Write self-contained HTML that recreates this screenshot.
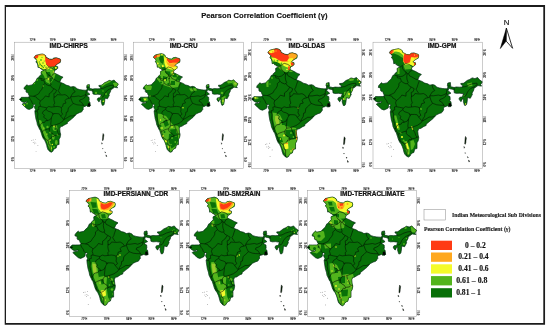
<!DOCTYPE html><html><head><meta charset="utf-8"><title>Pearson Correlation Coefficient</title>
<style>html,body{margin:0;padding:0;background:#fff;overflow:hidden}svg{display:block}text{font-family:"Liberation Sans",sans-serif}.s{font-family:"Liberation Serif",serif;font-weight:bold}.t{font-size:2.7px;fill:#222;stroke:#222;stroke-width:0.13px}.h{font-weight:bold;font-size:6.45px;fill:#111;stroke:#111;stroke-width:0.22px}</style></head><body>
<svg width="550" height="330" viewBox="0 0 550 330">
<defs>
<path id="india" d="M68.18,23.69 L68.40,23.95 L68.75,24.30 L69.60,24.28 L70.10,24.30 L70.60,24.30 L70.98,24.36 L71.10,24.70 L70.90,25.00 L70.65,25.70 L70.28,25.70 L70.10,25.95 L70.08,26.60 L69.50,26.74 L69.57,27.17 L70.14,27.83 L70.37,28.01 L70.70,27.74 L71.90,27.96 L72.20,28.35 L72.95,29.03 L73.38,29.94 L73.93,30.19 L73.87,30.38 L74.60,31.05 L74.52,31.72 L74.60,31.90 L75.38,32.26 L74.65,32.60 L74.67,32.80 L74.30,32.80 L74.00,33.20 L73.63,33.10 L73.55,33.80 L73.40,34.35 L73.00,34.70 L73.30,35.20 L72.90,35.60 L72.50,36.00 L72.60,36.30 L73.00,36.70 L73.80,36.90 L74.50,37.05 L74.90,37.10 L75.40,36.95 L75.90,36.60 L76.00,36.10 L76.51,35.88 L77.00,35.60 L77.82,35.51 L78.30,35.90 L79.00,36.00 L80.20,35.60 L80.30,35.20 L80.20,34.60 L79.60,34.30 L79.00,33.90 L78.75,33.55 L79.45,33.35 L79.45,32.85 L79.10,32.50 L78.60,32.30 L78.30,31.60 L78.90,31.25 L79.50,31.00 L80.20,30.58 L80.90,30.30 L81.03,30.20 L80.50,29.80 L80.06,28.83 L80.50,28.60 L81.20,28.35 L81.90,27.90 L82.70,27.70 L83.30,27.35 L84.10,27.50 L84.65,27.30 L85.20,26.80 L85.85,26.60 L86.70,26.45 L87.30,26.40 L88.00,26.37 L88.15,26.90 L88.00,27.30 L88.10,27.90 L88.80,28.05 L88.85,27.50 L88.90,27.30 L88.75,27.10 L89.00,26.90 L89.80,26.72 L90.40,26.85 L91.20,26.80 L92.05,26.85 L92.10,27.30 L91.65,27.50 L91.60,27.80 L92.30,27.85 L92.70,28.10 L93.30,28.60 L94.00,28.90 L94.65,29.30 L95.40,29.10 L96.10,29.40 L96.60,28.80 L97.35,28.25 L97.10,27.75 L96.90,27.50 L97.15,27.10 L96.20,27.25 L95.45,26.70 L95.15,26.60 L95.05,26.00 L94.60,25.20 L94.70,24.90 L94.15,23.85 L93.40,24.05 L93.30,23.00 L93.15,22.20 L92.95,21.95 L92.60,21.95 L92.30,22.90 L92.35,23.70 L92.00,23.65 L91.70,23.00 L91.60,22.95 L91.20,23.50 L91.15,23.75 L91.35,24.10 L91.90,24.15 L92.10,24.40 L92.25,24.90 L92.45,25.03 L91.30,25.20 L90.40,25.15 L89.85,25.30 L89.80,25.90 L89.65,26.20 L89.10,26.30 L88.70,26.40 L88.40,26.60 L88.35,26.30 L88.10,25.80 L88.45,25.65 L88.95,25.20 L88.30,24.90 L88.05,24.65 L88.70,24.30 L88.75,23.50 L88.60,23.20 L88.95,22.90 L89.05,22.10 L89.10,21.80 L88.90,21.60 L88.20,21.60 L88.00,21.90 L87.80,21.70 L87.20,21.55 L86.95,21.20 L87.00,20.70 L86.75,20.40 L86.70,20.20 L86.40,19.95 L85.80,19.75 L85.10,19.40 L84.75,19.10 L84.10,18.35 L83.60,17.95 L83.30,17.70 L82.30,16.90 L82.30,16.55 L81.70,16.30 L81.15,15.95 L80.85,15.75 L80.30,15.65 L80.05,15.00 L80.15,14.00 L80.30,13.40 L80.30,13.10 L80.15,12.40 L79.85,11.90 L79.85,11.00 L79.85,10.35 L79.30,10.30 L79.10,9.70 L79.00,9.30 L78.60,9.15 L78.15,8.75 L78.00,8.35 L77.55,8.08 L77.10,8.30 L76.55,8.90 L76.30,9.60 L76.20,10.10 L75.95,10.85 L75.60,11.60 L75.20,12.10 L74.85,12.90 L74.60,13.70 L74.30,14.60 L74.10,14.85 L73.75,15.60 L73.45,16.20 L73.30,17.00 L73.00,18.00 L72.85,18.90 L72.75,19.60 L72.70,20.20 L72.90,20.75 L72.65,21.10 L72.55,21.65 L72.90,22.00 L72.50,22.25 L72.20,22.00 L72.25,21.60 L72.10,21.20 L71.50,20.90 L71.00,20.70 L70.40,20.90 L69.65,21.55 L68.95,22.25 L69.20,22.45 L69.70,22.55 L70.10,22.55 L70.40,22.95 L70.10,22.95 L69.70,22.75 L69.20,22.85 L68.60,23.20Z"/>
<clipPath id="cl"><use href="#india"/></clipPath>
<g id="isl"><g fill="#0a2a0a" stroke="#000" stroke-width="0.12"><path d="M92.85,13.6 L93.1,13.2 L93.0,12.5 L92.95,11.9 L92.8,11.5 L92.65,11.6 L92.7,12.3 L92.75,13.0Z"/><path d="M92.45,10.9 L92.6,10.6 L92.5,10.45Z"/><path d="M92.75,9.25 L92.85,9.1 L92.7,9.1Z"/><path d="M93.4,8.2 L93.6,7.95 L93.45,7.9Z"/><path d="M93.7,7.3 L93.95,6.85 L93.75,6.8Z"/></g><g fill="#444"><circle cx="72.2" cy="11.7" r="0.1"/><circle cx="72.7" cy="11.1" r="0.1"/><circle cx="73.0" cy="10.8" r="0.1"/><circle cx="72.6" cy="10.55" r="0.1"/><circle cx="73.6" cy="10.1" r="0.1"/><circle cx="72.2" cy="10.9" r="0.1"/><circle cx="71.8" cy="11.6" r="0.1"/><circle cx="72.9" cy="11.9" r="0.1"/><circle cx="73.05" cy="8.3" r="0.1"/></g></g>
<g id="bnd" fill="none" stroke="#021202" stroke-width="0.16" stroke-linejoin="round"><path d="M75.38,32.26 L75.9,32.6 L76.4,32.9 L76.8,33.2 L77.8,32.9 L78.6,32.3"/><path d="M75.9,32.5 L76.0,31.8 L76.4,31.2 L76.9,30.9 L77.2,30.4 L77.6,30.4 L78.0,31.1 L78.5,31.3"/><path d="M73.9,29.95 L74.5,29.9 L75.3,29.6 L76.1,29.8 L76.9,30.4 L76.9,30.9"/><path d="M74.5,29.9 L74.6,29.3 L75.4,29.2 L75.6,28.6 L76.0,28.1 L76.9,27.7 L77.3,27.8"/><path d="M77.2,30.4 L77.1,29.5 L77.2,28.8 L77.5,28.0 L77.3,27.8"/><path d="M77.6,30.4 L77.9,29.8 L78.4,29.6 L78.9,29.3 L79.6,28.9 L80.06,28.83"/><path d="M80.5,28.6 L80.1,27.5 L79.9,26.8 L79.6,26.3 L79.8,25.9 L80.3,25.2"/><path d="M75.7,28.4 L75.0,27.8 L75.0,27.2 L74.7,26.6 L74.2,26.0 L73.8,25.3 L73.0,24.9 L72.3,24.6"/><path d="M71.1,24.7 L72.3,24.6 L73.1,24.4 L73.4,23.9 L74.0,23.6 L74.3,23.2"/><path d="M74.3,23.2 L75.2,23.9 L75.8,24.7 L76.9,24.4 L76.9,25.3 L77.7,25.9 L78.3,26.85"/><path d="M77.3,27.8 L77.7,27.2 L78.3,26.85"/><path d="M78.3,26.85 L79.1,26.4 L78.8,25.6 L78.3,25.4 L78.4,24.3 L79.0,24.6 L79.3,25.1 L80.3,25.0 L80.9,25.0 L81.6,25.1 L82.3,24.7 L82.8,24.0 L83.3,24.2"/><path d="M83.9,27.4 L84.1,26.6 L84.6,25.9 L83.9,25.5 L83.3,24.5 L83.3,24.2"/><path d="M83.3,24.5 L84.3,24.5 L85.6,24.7 L86.3,24.5 L87.1,24.8 L87.8,25.2"/><path d="M88.0,26.37 L87.8,25.8 L87.8,25.2"/><path d="M87.8,25.2 L87.5,24.3 L86.8,23.8 L86.0,23.5 L85.9,23.1 L86.5,22.8 L87.0,22.1 L87.0,21.9 L87.5,21.6"/><path d="M87.0,21.95 L85.9,22.0 L85.1,22.1 L84.3,22.4 L84.0,22.5"/><path d="M84.0,22.5 L83.6,23.3 L83.3,24.2"/><path d="M84.0,22.5 L83.3,21.8 L82.6,21.2 L82.4,20.0 L82.0,19.9 L81.9,19.0 L81.4,18.2 L81.4,17.8"/><path d="M81.4,17.8 L82.3,18.3 L83.1,18.8 L83.9,18.8 L84.75,19.1"/><path d="M78.4,24.5 L78.3,23.9 L78.4,23.2 L78.6,22.6 L78.3,22.2 L78.4,21.5"/><path d="M82.8,24.0 L82.0,23.8 L81.6,23.3 L81.9,22.6 L81.1,22.4 L80.9,21.6 L80.5,21.3"/><path d="M74.3,21.6 L75.2,21.4 L76.2,21.2 L76.8,21.6 L77.5,21.4 L78.4,21.5 L79.3,21.6 L80.0,21.5 L80.5,21.3"/><path d="M74.3,23.2 L74.1,22.6 L74.3,22.0 L74.3,21.6"/><path d="M74.3,21.6 L73.8,21.5 L73.9,20.7 L73.4,20.6 L73.4,20.2 L72.75,20.15"/><path d="M71.0,24.4 L71.3,23.7 L71.7,23.2 L71.9,22.6 L72.3,22.2"/><path d="M73.4,20.2 L73.6,19.5 L73.5,18.5 L73.7,17.5 L73.9,16.5 L74.1,15.7"/><path d="M76.2,21.2 L76.0,20.7 L75.2,20.2 L74.9,19.6 L75.5,19.0 L75.3,18.4 L75.9,18.0 L76.4,17.6 L76.3,17.35"/><path d="M76.0,20.7 L76.6,20.2 L77.3,20.0 L77.9,19.7 L77.9,19.3 L78.3,19.5"/><path d="M80.5,21.3 L80.6,20.6 L80.5,20.0 L80.9,19.3 L80.3,18.8 L79.9,19.4 L79.2,19.5 L78.3,19.5 L77.8,18.8 L77.6,18.3 L77.2,17.7 L76.4,17.4 L75.9,17.4 L75.6,16.9 L74.9,16.8 L74.5,16.5 L74.3,16.0 L74.1,15.7 L74.3,15.2 L74.1,14.9"/><path d="M74.1,15.7 L73.7,15.72"/><path d="M80.3,18.8 L80.8,18.2 L81.1,17.8 L81.4,17.8"/><path d="M81.3,17.8 L80.9,17.2 L80.4,16.9 L80.0,16.6 L79.2,16.3 L78.3,16.0 L77.5,15.9"/><path d="M77.6,18.3 L77.5,17.4 L77.4,16.4 L77.5,15.9"/><path d="M78.7,16.1 L78.9,15.3 L79.3,14.6 L79.5,13.9 L79.9,13.4"/><path d="M77.5,15.9 L77.0,15.2 L77.0,14.4 L77.4,13.9 L78.0,13.6 L78.4,13.0 L78.2,12.7"/><path d="M74.3,15.0 L74.7,14.6 L75.0,13.6 L75.3,12.8 L75.4,12.3"/><path d="M74.9,14.2 L75.6,14.6 L76.4,14.9 L77.0,15.0"/><path d="M74.9,12.75 L75.5,12.2 L76.1,11.9 L76.4,11.6 L77.0,11.8 L77.5,12.2 L77.8,12.8 L78.2,12.7"/><path d="M78.2,12.7 L78.6,13.0 L79.3,13.1 L79.9,13.4 L80.3,13.45"/><path d="M76.4,11.6 L76.7,11.2 L76.8,10.3 L77.2,10.2 L77.2,9.6 L77.2,8.9 L77.15,8.3"/><path d="M87.8,24.9 L88.1,24.7"/><path d="M88.05,27.15 L88.85,27.15"/><path d="M89.85,26.0 L89.8,26.7"/><path d="M92.05,26.85 L93.0,27.0 L94.0,27.5 L95.0,27.8 L95.9,27.9 L96.0,27.4 L95.5,27.2 L95.2,26.9 L95.2,26.65"/><path d="M95.2,26.9 L94.3,26.5 L93.7,25.9 L93.4,25.5 L93.1,24.8 L92.8,24.4 L92.3,24.3"/><path d="M88.35,22.5 L88.9,22.6 L89.1,21.75 L88.7,21.6 L88.3,21.75Z" fill="#000" stroke="none"/><path d="M68.2,23.75 L68.8,23.9 L68.9,23.55 L68.3,23.5Z" fill="#000" stroke="none"/></g>
</defs>
<rect x="0" y="0" width="550" height="330" fill="#fff"/>
<path d="M4.7,5.1 H545.05 V324.8 H4.7Z M6.0,6.9 V322.9 H543.3 V6.9Z" fill="#1c1c1c" fill-rule="evenodd"/>
<text x="264.3" y="17.6" text-anchor="middle" style="font-weight:bold;font-size:8.1px;stroke:#111;stroke-width:0.15px" fill="#111" textLength="126.3" lengthAdjust="spacingAndGlyphs">Pearson Correlation Coefficient (γ)</text>
<text x="506.5" y="25" text-anchor="middle" style="font-size:7.8px;stroke:#111;stroke-width:0.15px" fill="#111">N</text><path d="M506.4,28.1 L500.3,48.6 L506.2,41.1Z" fill="#000" stroke="#000" stroke-width="0.5" stroke-linejoin="miter"/><path d="M506.4,28.1 L512.6,48.3 L506.2,41.1Z" fill="#fff" stroke="#000" stroke-width="0.8" stroke-linejoin="miter"/>
<rect x="14.45" y="42.2" width="109.0" height="126.2" fill="#fff" stroke="#9a9a9a" stroke-width="0.5"/>
<g transform="translate(-211.22,179.56) scale(3.385,-3.385)">
<use href="#india" fill="#087008" stroke="#031" stroke-width="0.1"/>
<g clip-path="url(#cl)">
<g transform="scale(0.29542,-0.29542) translate(211.22,-179.56)">
<path d="M40.00,67.00 L53.00,67.00 L56.00,73.00 L54.00,79.00 L50.00,84.00 L46.00,82.00 L44.00,76.00 L41.00,72.00Z" fill="#52b41c"/>
<path d="M46.00,72.00 L50.00,72.00 L51.00,76.00 L47.00,77.00Z" fill="#087008"/>
<path d="M50.00,78.00 L53.00,77.00 L52.00,81.00 L50.00,82.00Z" fill="#087008"/>
<circle cx="34" cy="83" r="1.2" fill="#52b41c"/>
<circle cx="37" cy="80" r="1.0" fill="#52b41c"/>
<circle cx="48.5" cy="79" r="0.8" fill="#f4fb2a"/>
<circle cx="43" cy="86" r="0.9" fill="#52b41c"/>
<path d="M35.50,55.50 L44.00,53.50 L46.00,58.00 L46.00,64.00 L48.00,66.50 L50.50,67.50 L48.00,69.30 L44.00,69.00 L41.00,68.30 L38.50,66.80 L37.50,62.00 L36.00,58.50Z" fill="#f4fb2a"/>
<circle cx="41" cy="60" r="0.9" fill="#52b41c"/>
<circle cx="43" cy="63" r="0.8" fill="#52b41c"/>
<circle cx="40.3" cy="64.5" r="0.9" fill="#52b41c"/>
<circle cx="44.5" cy="65.7" r="0.8" fill="#52b41c"/>
<circle cx="42" cy="57.3" r="0.6" fill="#52b41c"/>
<circle cx="46" cy="67.3" r="0.8" fill="#52b41c"/>
<circle cx="39.3" cy="62" r="0.7" fill="#52b41c"/>
<circle cx="42.3" cy="66.5" r="0.9" fill="#52b41c"/>
<circle cx="38.8" cy="65.3" r="0.7" fill="#52b41c"/>
<circle cx="44.2" cy="61" r="0.6" fill="#52b41c"/>
<circle cx="41.5" cy="65.5" r="0.5" fill="#087008"/>
<circle cx="43.5" cy="67.3" r="0.5" fill="#087008"/>
<circle cx="39.5" cy="63.6" r="0.45" fill="#087008"/>
<path d="M38.00,53.50 L44.50,53.20 L45.20,55.40 L39.00,56.00Z" fill="#ffa81e"/>
<path d="M32.50,57.70 L35.00,54.60 L38.50,54.00 L38.30,57.00 L37.00,58.40 L35.00,58.00Z" fill="#ff3a14"/>
<path d="M44.30,53.50 L46.00,56.00 L48.00,58.50 L51.00,59.50 L55.00,58.30 L62.00,57.00 L61.30,61.00 L57.30,64.50 L54.50,66.60 L49.00,66.70 L46.40,64.60 L45.20,61.00 L45.20,57.00Z" fill="#ff3a14"/>
<circle cx="55.8" cy="67.8" r="1.1" fill="#f4fb2a"/>
<circle cx="51" cy="69.3" r="0.8" fill="#f4fb2a"/>
<circle cx="53.5" cy="72" r="0.7" fill="#f4fb2a"/>
<path d="M99.50,84.00 L104.00,80.00 L110.00,78.00 L113.50,79.50 L110.50,82.00 L106.00,84.00 L102.00,86.80Z" fill="#52b41c"/>
<path d="M113.00,83.00 L119.00,82.00 L118.50,86.00 L114.00,86.50Z" fill="#52b41c"/>
<circle cx="96" cy="93" r="1.2" fill="#52b41c"/>
<circle cx="103" cy="91" r="0.8" fill="#52b41c"/>
<circle cx="88.2" cy="85" r="1.2" fill="#52b41c"/>
<circle cx="104" cy="101" r="1.3" fill="#52b41c"/>
<circle cx="103.2" cy="101.5" r="0.6" fill="#f4fb2a"/>
<circle cx="106" cy="94" r="1.0" fill="#52b41c"/>
<circle cx="101" cy="97" r="0.8" fill="#52b41c"/>
<circle cx="24" cy="105" r="1.3" fill="#52b41c"/>
<circle cx="27" cy="103.5" r="0.9" fill="#52b41c"/>
<circle cx="22" cy="107" r="0.8" fill="#52b41c"/>
<circle cx="24.5" cy="105.5" r="0.5" fill="#f4fb2a"/>
<path d="M39.00,120.00 L41.20,120.50 L43.70,127.00 L46.30,133.00 L49.30,140.00 L52.30,148.00 L51.70,151.50 L49.50,149.00 L47.00,142.00 L44.00,135.00 L41.30,128.00 L39.30,123.00Z" fill="#52b41c"/>
<ellipse cx="55" cy="128" rx="2.4" ry="3.0" fill="#52b41c"/>
<ellipse cx="53.3" cy="137" rx="1.4" ry="2.8" fill="#52b41c"/>
<ellipse cx="56.3" cy="142.5" rx="1.4" ry="2.4" fill="#52b41c"/>
<circle cx="47.5" cy="127" r="1.2" fill="#52b41c"/>
<circle cx="50.3" cy="132.5" r="1.1" fill="#52b41c"/>
<circle cx="57.5" cy="135" r="1.0" fill="#52b41c"/>
<circle cx="54" cy="147" r="1.0" fill="#52b41c"/>
<circle cx="55.3" cy="129" r="1.0" fill="#087008"/>
<circle cx="54" cy="126" r="0.8" fill="#f4fb2a"/>
<circle cx="50" cy="140" r="0.8" fill="#f4fb2a"/>
<circle cx="52.3" cy="144.5" r="0.7" fill="#f4fb2a"/>
<circle cx="47" cy="134" r="0.6" fill="#f4fb2a"/>
<circle cx="51.5" cy="148" r="0.6" fill="#f4fb2a"/>
<circle cx="44" cy="128" r="0.6" fill="#f4fb2a"/>
</g>
</g>
<use href="#bnd"/>
<use href="#india" fill="none" stroke="#021" stroke-width="0.12"/>
<use href="#isl"/>
</g>
<text class="t" x="32.5" y="41.4" text-anchor="middle">72°E</text>
<text class="t" x="32.5" y="171.7" text-anchor="middle">72°E</text>
<text class="t" x="52.8" y="41.4" text-anchor="middle">78°E</text>
<text class="t" x="52.8" y="171.7" text-anchor="middle">78°E</text>
<text class="t" x="73.1" y="41.4" text-anchor="middle">84°E</text>
<text class="t" x="73.1" y="171.7" text-anchor="middle">84°E</text>
<text class="t" x="93.4" y="41.4" text-anchor="middle">90°E</text>
<text class="t" x="93.4" y="171.7" text-anchor="middle">90°E</text>
<text class="t" x="113.7" y="41.4" text-anchor="middle">96°E</text>
<text class="t" x="113.7" y="171.7" text-anchor="middle">96°E</text>
<text class="t" transform="translate(13.8,57.5) rotate(-90)" text-anchor="middle">36°N</text>
<text class="t" transform="translate(127.0,57.5) rotate(-90)" text-anchor="middle">36°N</text>
<text class="t" transform="translate(13.8,77.8) rotate(-90)" text-anchor="middle">30°N</text>
<text class="t" transform="translate(127.0,77.8) rotate(-90)" text-anchor="middle">30°N</text>
<text class="t" transform="translate(13.8,98.1) rotate(-90)" text-anchor="middle">24°N</text>
<text class="t" transform="translate(127.0,98.1) rotate(-90)" text-anchor="middle">24°N</text>
<text class="t" transform="translate(13.8,118.4) rotate(-90)" text-anchor="middle">18°N</text>
<text class="t" transform="translate(127.0,118.4) rotate(-90)" text-anchor="middle">18°N</text>
<text class="t" transform="translate(13.8,138.7) rotate(-90)" text-anchor="middle">12°N</text>
<text class="t" transform="translate(127.0,138.7) rotate(-90)" text-anchor="middle">12°N</text>
<text class="t" transform="translate(13.8,159.1) rotate(-90)" text-anchor="middle">6°N</text>
<text class="t" transform="translate(127.0,159.1) rotate(-90)" text-anchor="middle">6°N</text>
<text class="h" x="68.7" y="47.8" text-anchor="middle">IMD-CHIRPS</text>
<rect x="133.4" y="42.2" width="109.9" height="126.2" fill="#fff" stroke="#9a9a9a" stroke-width="0.5"/>
<g transform="translate(-93.00,179.80) scale(3.4,-3.4)">
<use href="#india" fill="#087008" stroke="#031" stroke-width="0.1"/>
<g clip-path="url(#cl)">
<g transform="scale(0.29412,-0.29412) translate(93.00,-179.80)">
<path d="M150.00,52.00 L185.00,52.00 L185.00,70.00 L176.00,78.00 L170.00,80.00 L160.00,74.00 L150.00,70.00Z" fill="#52b41c"/>
<path d="M159.50,56.00 L163.00,55.50 L164.00,60.00 L163.00,64.00 L160.50,62.50 L159.00,59.00Z" fill="#087008"/>
<path d="M161.00,66.00 L165.00,67.00 L166.00,70.00 L162.00,70.00Z" fill="#087008"/>
<circle cx="157.7" cy="63.5" r="1.0" fill="#f4fb2a"/>
<circle cx="162.8" cy="66.2" r="1.1" fill="#f4fb2a"/>
<circle cx="162" cy="54.6" r="1.0" fill="#f4fb2a"/>
<circle cx="159" cy="66" r="0.7" fill="#f4fb2a"/>
<path d="M164.50,55.50 L166.50,57.00 L169.00,60.00 L177.00,60.00 L177.80,66.00 L177.50,69.50 L174.00,70.00 L170.00,69.30 L166.00,67.80 L164.50,63.50 L164.00,59.00Z" fill="#f4fb2a"/>
<path d="M165.80,57.30 L167.00,62.00 L169.50,63.50 L177.50,62.50 L176.50,65.20 L174.00,67.20 L171.00,66.70 L168.00,65.20 L166.30,62.00Z" fill="#ffa81e"/>
<path d="M166.30,56.50 L168.50,59.30 L172.00,60.00 L176.00,58.30 L180.50,57.80 L180.00,60.50 L177.50,62.70 L173.00,62.70 L169.50,63.20 L167.30,61.00Z" fill="#ff3a14"/>
<path d="M156.50,54.50 L160.00,54.00 L160.00,56.50 L157.00,57.50Z" fill="#ffa81e"/>
<path d="M152.50,57.50 L155.50,55.20 L157.30,54.60 L156.70,57.00 L155.50,58.40Z" fill="#ff3a14"/>
<circle cx="173.5" cy="71.5" r="0.9" fill="#ffa81e"/>
<circle cx="172.2" cy="72.8" r="0.8" fill="#f4fb2a"/>
<path d="M165.00,71.00 L170.00,71.50 L171.00,76.00 L166.00,76.00Z" fill="#087008"/>
<path d="M172.00,74.00 L176.00,73.00 L177.00,77.00 L173.00,78.00Z" fill="#087008"/>
<path d="M157.00,73.00 L164.00,72.00 L170.00,76.00 L176.00,78.00 L180.00,82.00 L178.00,87.00 L172.00,88.00 L166.00,86.00 L161.00,84.00 L157.00,79.00Z" fill="#52b41c"/>
<path d="M163.00,76.00 L167.00,77.00 L167.00,81.00 L163.00,80.00Z" fill="#087008"/>
<path d="M171.00,81.00 L175.00,81.00 L175.00,85.00 L171.00,85.00Z" fill="#087008"/>
<circle cx="159.5" cy="77" r="1.3" fill="#087008"/>
<circle cx="168.5" cy="84" r="1.2" fill="#087008"/>
<circle cx="176.5" cy="80" r="1.2" fill="#087008"/>
<circle cx="161" cy="82.5" r="1.0" fill="#087008"/>
<circle cx="169" cy="78.5" r="0.8" fill="#087008"/>
<circle cx="165" cy="80" r="0.9" fill="#f4fb2a"/>
<circle cx="173" cy="74.2" r="0.8" fill="#f4fb2a"/>
<path d="M144.00,85.50 L149.00,84.00 L152.00,86.50 L151.00,90.00 L146.00,90.00Z" fill="#52b41c"/>
<path d="M143.00,98.00 L147.00,97.00 L148.00,100.50 L144.00,101.50Z" fill="#52b41c"/>
<circle cx="145" cy="99.4" r="0.9" fill="#f4fb2a"/>
<circle cx="150" cy="96" r="1.0" fill="#52b41c"/>
<path d="M189.00,88.50 L196.00,88.00 L197.00,90.50 L191.00,91.50Z" fill="#52b41c"/>
<circle cx="183" cy="107.7" r="0.7" fill="#f4fb2a"/>
<circle cx="207.6" cy="85" r="1.2" fill="#52b41c"/>
<path d="M226.50,81.00 L231.00,78.50 L234.50,79.50 L232.00,83.00 L228.00,83.50Z" fill="#52b41c"/>
<path d="M232.00,80.00 L239.00,82.50 L238.50,87.00 L233.00,86.50Z" fill="#52b41c"/>
<circle cx="235.5" cy="83.5" r="1.3" fill="#9ccc2c"/>
<circle cx="222" cy="93" r="1.3" fill="#52b41c"/>
<circle cx="218.7" cy="99" r="0.9" fill="#52b41c"/>
<path d="M221.50,97.00 L225.50,96.00 L226.00,100.00 L225.00,104.50 L222.00,104.00Z" fill="#52b41c"/>
<circle cx="223" cy="101" r="0.8" fill="#f4fb2a"/>
<path d="M157.50,113.50 L161.00,114.00 L166.00,116.00 L170.00,121.00 L173.00,125.00 L178.00,126.00 L180.00,130.00 L179.50,138.00 L177.00,145.00 L173.00,150.00 L170.00,152.00 L167.00,147.00 L164.00,141.00 L161.00,133.00 L158.50,124.00Z" fill="#52b41c"/>
<path d="M170.00,129.50 L176.00,129.00 L176.50,134.00 L171.00,134.50Z" fill="#087008"/>
<path d="M163.00,121.00 L167.00,120.00 L169.00,125.00 L165.00,127.00Z" fill="#087008"/>
<path d="M169.00,134.00 L177.50,133.00 L178.50,140.00 L175.50,146.00 L171.50,148.50 L168.50,141.00Z" fill="#087008"/>
<circle cx="172" cy="138" r="1.0" fill="#52b41c"/>
<circle cx="175.3" cy="142" r="0.9" fill="#52b41c"/>
<circle cx="171" cy="144.5" r="0.8" fill="#52b41c"/>
<circle cx="176" cy="136" r="0.8" fill="#52b41c"/>
<circle cx="160.5" cy="126" r="1.0" fill="#087008"/>
<circle cx="164.5" cy="132" r="1.0" fill="#087008"/>
<circle cx="167" cy="144" r="0.9" fill="#087008"/>
<circle cx="163" cy="136" r="1.0" fill="#f4fb2a"/>
<circle cx="166" cy="141" r="1.0" fill="#f4fb2a"/>
<circle cx="169" cy="147" r="0.9" fill="#f4fb2a"/>
<circle cx="172" cy="127" r="0.8" fill="#f4fb2a"/>
<circle cx="162" cy="128" r="0.8" fill="#f4fb2a"/>
<circle cx="160.5" cy="120" r="0.7" fill="#f4fb2a"/>
</g>
</g>
<use href="#bnd"/>
<use href="#india" fill="none" stroke="#021" stroke-width="0.12"/>
<use href="#isl"/>
</g>
<text class="t" x="151.8" y="41.4" text-anchor="middle">72°E</text>
<text class="t" x="151.8" y="171.7" text-anchor="middle">72°E</text>
<text class="t" x="172.2" y="41.4" text-anchor="middle">78°E</text>
<text class="t" x="172.2" y="171.7" text-anchor="middle">78°E</text>
<text class="t" x="192.6" y="41.4" text-anchor="middle">84°E</text>
<text class="t" x="192.6" y="171.7" text-anchor="middle">84°E</text>
<text class="t" x="213.0" y="41.4" text-anchor="middle">90°E</text>
<text class="t" x="213.0" y="171.7" text-anchor="middle">90°E</text>
<text class="t" x="233.4" y="41.4" text-anchor="middle">96°E</text>
<text class="t" x="233.4" y="171.7" text-anchor="middle">96°E</text>
<text class="t" transform="translate(132.8,57.5) rotate(-90)" text-anchor="middle">36°N</text>
<text class="t" transform="translate(246.9,57.5) rotate(-90)" text-anchor="middle">36°N</text>
<text class="t" transform="translate(132.8,77.9) rotate(-90)" text-anchor="middle">30°N</text>
<text class="t" transform="translate(246.9,77.9) rotate(-90)" text-anchor="middle">30°N</text>
<text class="t" transform="translate(132.8,98.3) rotate(-90)" text-anchor="middle">24°N</text>
<text class="t" transform="translate(246.9,98.3) rotate(-90)" text-anchor="middle">24°N</text>
<text class="t" transform="translate(132.8,118.7) rotate(-90)" text-anchor="middle">18°N</text>
<text class="t" transform="translate(246.9,118.7) rotate(-90)" text-anchor="middle">18°N</text>
<text class="t" transform="translate(132.8,139.1) rotate(-90)" text-anchor="middle">12°N</text>
<text class="t" transform="translate(246.9,139.1) rotate(-90)" text-anchor="middle">12°N</text>
<text class="t" transform="translate(132.8,159.5) rotate(-90)" text-anchor="middle">6°N</text>
<text class="t" transform="translate(246.9,159.5) rotate(-90)" text-anchor="middle">6°N</text>
<text class="h" x="183.6" y="47.8" text-anchor="middle">IMD-CRU</text>
<rect x="251.5" y="42.2" width="110.1" height="126.2" fill="#fff" stroke="#9a9a9a" stroke-width="0.5"/>
<g transform="translate(-3.90,187.80) scale(3.75,-3.75)">
<use href="#india" fill="#087008" stroke="#031" stroke-width="0.1"/>
<g clip-path="url(#cl)">
<g transform="scale(0.26667,-0.26667) translate(3.90,-187.80)">
<path d="M266.00,46.00 L300.00,46.00 L300.00,66.00 L292.00,72.00 L284.00,72.00 L276.00,66.00 L268.00,60.00Z" fill="#52b41c"/>
<path d="M274.00,61.00 L279.00,62.50 L281.00,66.00 L277.00,66.00 L273.00,63.00Z" fill="#087008"/>
<path d="M271.50,57.50 L276.00,57.50 L279.00,60.00 L283.00,61.00 L289.00,60.00 L293.00,61.00 L292.00,66.00 L289.00,68.00 L285.00,66.50 L281.00,64.00 L277.00,62.00 L273.00,61.00Z" fill="#f4fb2a"/>
<circle cx="277.5" cy="60.8" r="1.0" fill="#52b41c"/>
<circle cx="281.5" cy="63.3" r="0.9" fill="#52b41c"/>
<circle cx="274.2" cy="60.2" r="0.7" fill="#52b41c"/>
<path d="M266.50,52.00 L270.00,48.30 L277.00,46.80 L281.00,49.50 L284.00,53.00 L286.50,54.30 L290.00,53.00 L298.00,52.00 L297.00,56.00 L294.00,59.00 L290.00,61.00 L286.00,61.50 L282.00,61.50 L279.00,60.30 L275.50,58.00 L272.00,57.00 L270.00,55.00Z" fill="#ff3a14"/>
<path d="M288.00,54.50 L291.00,53.00 L298.50,51.80 L297.50,56.50 L294.00,59.50 L290.00,61.50 L287.00,61.00 L289.00,58.00Z" fill="#ffa81e"/>
<path d="M289.00,58.50 L293.00,58.00 L292.50,61.00 L289.00,62.00 L287.50,60.50Z" fill="#f4fb2a"/>
<path d="M267.50,51.50 L270.30,48.80 L274.00,49.30 L274.50,52.30 L271.00,53.20Z" fill="#f4fb2a"/>
<circle cx="272.8" cy="51.8" r="0.9" fill="#ffa81e"/>
<circle cx="276" cy="51" r="0.7" fill="#ffa81e"/>
<path d="M290.50,62.50 L293.50,62.50 L294.00,65.50 L291.50,66.00Z" fill="#ff3a14"/>
<path d="M288.00,66.50 L290.00,66.50 L290.00,70.00 L288.30,70.00Z" fill="#ff3a14"/>
<circle cx="287" cy="69.5" r="0.8" fill="#f4fb2a"/>
<circle cx="289.3" cy="68.2" r="0.6" fill="#ffa81e"/>
<path d="M266.00,81.00 L268.50,80.50 L268.50,87.00 L266.50,87.00Z" fill="#52b41c"/>
<circle cx="272" cy="78" r="0.9" fill="#52b41c"/>
<circle cx="270" cy="84" r="0.7" fill="#52b41c"/>
<path d="M253.00,96.50 L258.00,96.00 L258.50,99.00 L254.00,99.50Z" fill="#52b41c"/>
<circle cx="255.5" cy="97.7" r="0.9" fill="#f4fb2a"/>
<circle cx="327" cy="84" r="1.1" fill="#52b41c"/>
<path d="M347.50,79.50 L352.00,76.50 L355.00,77.00 L353.50,80.50 L350.00,81.00Z" fill="#52b41c"/>
<circle cx="358" cy="79.5" r="0.9" fill="#f4fb2a"/>
<circle cx="359.5" cy="82.5" r="0.8" fill="#f4fb2a"/>
<circle cx="360.3" cy="81" r="0.5" fill="#ffa81e"/>
<path d="M351.00,87.00 L353.30,86.00 L353.00,94.00 L351.00,94.00Z" fill="#52b41c"/>
<circle cx="352" cy="90" r="0.6" fill="#f4fb2a"/>
<path d="M344.00,92.00 L349.00,91.00 L350.50,96.00 L348.00,100.50 L344.00,100.00Z" fill="#52b41c"/>
<circle cx="349" cy="94" r="0.9" fill="#f4fb2a"/>
<circle cx="343.5" cy="99" r="0.8" fill="#f4fb2a"/>
<circle cx="298" cy="108" r="0.7" fill="#f4fb2a"/>
<path d="M272.50,112.50 L276.00,113.00 L280.00,115.00 L283.00,121.00 L285.00,126.00 L290.00,127.00 L296.00,128.00 L297.50,133.00 L297.00,142.00 L295.00,150.00 L291.00,155.00 L287.00,157.00 L284.00,152.00 L281.00,145.00 L278.00,137.00 L275.00,128.00 L273.00,119.00Z" fill="#52b41c"/>
<path d="M285.50,130.00 L295.80,129.30 L296.00,139.00 L289.00,139.50 L285.50,135.00Z" fill="#087008"/>
<path d="M277.00,136.50 L281.50,137.50 L283.00,142.00 L279.00,142.50Z" fill="#087008"/>
<circle cx="291" cy="133" r="1.0" fill="#52b41c"/>
<circle cx="293.5" cy="137" r="0.9" fill="#52b41c"/>
<circle cx="288" cy="137.5" r="0.8" fill="#52b41c"/>
<path d="M281.00,120.00 L284.00,120.00 L285.00,125.00 L282.00,125.00Z" fill="#087008"/>
<path d="M275.20,116.00 L278.50,116.00 L279.30,123.50 L276.50,124.50 L275.00,120.00Z" fill="#9ccc2c"/>
<path d="M284.00,143.00 L288.00,142.50 L288.50,148.50 L285.50,149.50 L283.80,146.00Z" fill="#f4fb2a"/>
<circle cx="284" cy="135.5" r="0.9" fill="#f4fb2a"/>
<circle cx="291" cy="151" r="0.8" fill="#f4fb2a"/>
<circle cx="280.5" cy="139" r="0.7" fill="#f4fb2a"/>
<path d="M295.60,130.00 L297.50,130.00 L297.50,140.00 L296.00,140.00Z" fill="#ffa81e"/>
<circle cx="296.8" cy="133.5" r="0.7" fill="#ff3a14"/>
<circle cx="293.3" cy="149.5" r="1.0" fill="#ffa81e"/>
<circle cx="287" cy="143.4" r="0.6" fill="#ff3a14"/>
</g>
</g>
<use href="#bnd"/>
<use href="#india" fill="none" stroke="#021" stroke-width="0.12"/>
<use href="#isl"/>
</g>
<text class="t" x="266.1" y="41.4" text-anchor="middle">72°E</text>
<text class="t" x="266.1" y="171.7" text-anchor="middle">72°E</text>
<text class="t" x="288.6" y="41.4" text-anchor="middle">78°E</text>
<text class="t" x="288.6" y="171.7" text-anchor="middle">78°E</text>
<text class="t" x="311.1" y="41.4" text-anchor="middle">84°E</text>
<text class="t" x="311.1" y="171.7" text-anchor="middle">84°E</text>
<text class="t" x="333.6" y="41.4" text-anchor="middle">90°E</text>
<text class="t" x="333.6" y="171.7" text-anchor="middle">90°E</text>
<text class="t" x="356.1" y="41.4" text-anchor="middle">96°E</text>
<text class="t" x="356.1" y="171.7" text-anchor="middle">96°E</text>
<text class="t" transform="translate(250.9,52.4) rotate(-90)" text-anchor="middle">36°N</text>
<text class="t" transform="translate(365.2,52.4) rotate(-90)" text-anchor="middle">36°N</text>
<text class="t" transform="translate(250.9,74.9) rotate(-90)" text-anchor="middle">30°N</text>
<text class="t" transform="translate(365.2,74.9) rotate(-90)" text-anchor="middle">30°N</text>
<text class="t" transform="translate(250.9,97.4) rotate(-90)" text-anchor="middle">24°N</text>
<text class="t" transform="translate(365.2,97.4) rotate(-90)" text-anchor="middle">24°N</text>
<text class="t" transform="translate(250.9,119.9) rotate(-90)" text-anchor="middle">18°N</text>
<text class="t" transform="translate(365.2,119.9) rotate(-90)" text-anchor="middle">18°N</text>
<text class="t" transform="translate(250.9,142.4) rotate(-90)" text-anchor="middle">12°N</text>
<text class="t" transform="translate(365.2,142.4) rotate(-90)" text-anchor="middle">12°N</text>
<text class="t" transform="translate(250.9,164.9) rotate(-90)" text-anchor="middle">6°N</text>
<text class="t" transform="translate(365.2,164.9) rotate(-90)" text-anchor="middle">6°N</text>
<text class="h" x="306.8" y="47.8" text-anchor="middle">IMD-GLDAS</text>
<rect x="373.0" y="42.2" width="109.7" height="126.2" fill="#fff" stroke="#9a9a9a" stroke-width="0.5"/>
<g transform="translate(119.14,187.18) scale(3.73,-3.73)">
<use href="#india" fill="#087008" stroke="#031" stroke-width="0.1"/>
<g clip-path="url(#cl)">
<g transform="scale(0.26810,-0.26810) translate(-119.14,-187.18)">
<path d="M390.00,49.00 L399.00,46.00 L405.00,52.00 L405.50,59.00 L402.00,57.50 L398.00,55.00 L394.00,53.50 L391.00,53.50Z" fill="#52b41c"/>
<path d="M392.00,47.50 L398.00,45.50 L402.00,48.00 L405.50,52.00 L407.00,55.50 L404.50,57.00 L402.50,54.50 L399.50,52.20 L396.00,51.50 L393.00,52.00Z" fill="#f4fb2a"/>
<path d="M404.00,51.50 L411.00,52.00 L421.00,51.50 L420.00,58.00 L416.00,62.00 L416.50,66.50 L410.00,65.50 L405.00,65.00 L403.00,61.00Z" fill="#f4fb2a"/>
<path d="M404.50,52.50 L411.00,52.50 L420.50,52.00 L418.80,57.50 L413.00,59.00 L410.00,62.50 L405.50,63.50 L403.30,60.50Z" fill="#ffa81e"/>
<path d="M404.60,53.30 L408.00,53.30 L411.50,54.30 L410.80,59.00 L409.50,62.50 L405.00,63.50 L403.30,61.00 L403.60,57.00Z" fill="#ff3a14"/>
<path d="M411.00,52.50 L421.00,52.00 L419.20,56.50 L414.00,57.30 L411.00,57.00Z" fill="#ff3a14"/>
<circle cx="414.5" cy="55" r="0.6" fill="#f4fb2a"/>
<circle cx="417" cy="54.6" r="0.5" fill="#f4fb2a"/>
<path d="M411.00,57.60 L413.50,57.40 L415.00,59.50 L413.00,62.70 L410.30,62.30Z" fill="#f4fb2a"/>
<path d="M413.80,62.30 L416.50,62.30 L416.50,65.80 L414.20,65.50Z" fill="#ff3a14"/>
<path d="M390.50,49.50 L394.00,47.80 L394.00,52.50 L391.50,54.00Z" fill="#ffa81e"/>
<path d="M387.50,53.00 L391.00,49.30 L392.80,49.00 L392.60,52.30 L391.00,54.50Z" fill="#ff3a14"/>
<path d="M403.00,64.30 L412.00,65.00 L412.00,69.00 L405.00,69.50Z" fill="#52b41c"/>
<path d="M397.00,68.00 L399.50,67.50 L399.50,74.00 L397.50,74.00Z" fill="#52b41c"/>
<path d="M467.00,83.50 L472.00,82.50 L472.50,86.00 L468.00,86.50Z" fill="#52b41c"/>
<circle cx="465.6" cy="104" r="0.7" fill="#f4fb2a"/>
<circle cx="464" cy="96" r="0.8" fill="#52b41c"/>
<circle cx="421" cy="109" r="0.9" fill="#52b41c"/>
<path d="M394.20,115.50 L396.20,115.50 L398.00,122.00 L400.00,129.50 L398.00,130.00 L396.00,123.00 L394.50,118.00Z" fill="#52b41c"/>
<circle cx="400.6" cy="133" r="1.0" fill="#52b41c"/>
<circle cx="402" cy="137" r="1.1" fill="#52b41c"/>
<circle cx="403.6" cy="140.5" r="1.0" fill="#52b41c"/>
<path d="M404.00,141.00 L407.00,141.00 L410.00,149.00 L409.50,154.00 L407.50,155.50 L405.50,149.00Z" fill="#52b41c"/>
<path d="M410.30,141.00 L413.50,140.00 L415.00,144.00 L413.00,149.00 L410.80,150.00Z" fill="#52b41c"/>
<path d="M396.00,123.00 L397.80,123.00 L398.50,128.00 L397.00,128.50Z" fill="#f4fb2a"/>
<circle cx="402" cy="137" r="0.9" fill="#f4fb2a"/>
<path d="M405.50,142.50 L407.30,142.50 L409.00,149.00 L407.50,149.50Z" fill="#f4fb2a"/>
<path d="M411.00,126.50 L412.20,126.30 L413.50,129.50 L412.50,130.00Z" fill="#f4fb2a"/>
<circle cx="408" cy="153" r="0.6" fill="#f4fb2a"/>
</g>
</g>
<use href="#bnd"/>
<use href="#india" fill="none" stroke="#021" stroke-width="0.12"/>
<use href="#isl"/>
</g>
<text class="t" x="387.7" y="41.4" text-anchor="middle">72°E</text>
<text class="t" x="387.7" y="171.7" text-anchor="middle">72°E</text>
<text class="t" x="410.1" y="41.4" text-anchor="middle">78°E</text>
<text class="t" x="410.1" y="171.7" text-anchor="middle">78°E</text>
<text class="t" x="432.5" y="41.4" text-anchor="middle">84°E</text>
<text class="t" x="432.5" y="171.7" text-anchor="middle">84°E</text>
<text class="t" x="454.8" y="41.4" text-anchor="middle">90°E</text>
<text class="t" x="454.8" y="171.7" text-anchor="middle">90°E</text>
<text class="t" x="477.2" y="41.4" text-anchor="middle">96°E</text>
<text class="t" x="477.2" y="171.7" text-anchor="middle">96°E</text>
<text class="t" transform="translate(372.4,52.4) rotate(-90)" text-anchor="middle">36°N</text>
<text class="t" transform="translate(486.3,52.4) rotate(-90)" text-anchor="middle">36°N</text>
<text class="t" transform="translate(372.4,74.8) rotate(-90)" text-anchor="middle">30°N</text>
<text class="t" transform="translate(486.3,74.8) rotate(-90)" text-anchor="middle">30°N</text>
<text class="t" transform="translate(372.4,97.2) rotate(-90)" text-anchor="middle">24°N</text>
<text class="t" transform="translate(486.3,97.2) rotate(-90)" text-anchor="middle">24°N</text>
<text class="t" transform="translate(372.4,119.5) rotate(-90)" text-anchor="middle">18°N</text>
<text class="t" transform="translate(486.3,119.5) rotate(-90)" text-anchor="middle">18°N</text>
<text class="t" transform="translate(372.4,141.9) rotate(-90)" text-anchor="middle">12°N</text>
<text class="t" transform="translate(486.3,141.9) rotate(-90)" text-anchor="middle">12°N</text>
<text class="t" transform="translate(372.4,164.3) rotate(-90)" text-anchor="middle">6°N</text>
<text class="t" transform="translate(486.3,164.3) rotate(-90)" text-anchor="middle">6°N</text>
<text class="h" x="442" y="47.8" text-anchor="middle">IMD-GPM</text>
<rect x="69.4" y="190.4" width="109.9" height="126.0" fill="#fff" stroke="#9a9a9a" stroke-width="0.5"/>
<g transform="translate(-184.48,335.69) scale(3.733,-3.733)">
<use href="#india" fill="#087008" stroke="#031" stroke-width="0.1"/>
<g clip-path="url(#cl)">
<g transform="scale(0.26788,-0.26788) translate(184.48,-335.69)">
<path d="M85.00,196.00 L118.00,196.00 L118.00,212.00 L110.00,218.50 L100.00,219.00 L92.00,213.00 L86.00,206.00Z" fill="#52b41c"/>
<path d="M90.50,202.00 L96.30,202.50 L96.80,207.50 L92.50,208.00Z" fill="#087008"/>
<path d="M92.00,208.80 L97.50,209.20 L99.30,214.00 L94.00,213.50Z" fill="#087008"/>
<path d="M101.00,214.50 L105.00,214.00 L106.00,218.00 L102.00,218.50Z" fill="#087008"/>
<path d="M96.50,198.50 L100.50,200.00 L103.00,202.50 L107.00,202.30 L110.00,200.80 L116.00,201.30 L115.00,205.00 L112.30,208.00 L112.00,213.00 L106.00,212.80 L101.00,212.00 L98.30,208.50 L97.20,203.50Z" fill="#f4fb2a"/>
<path d="M100.00,201.50 L103.00,203.50 L107.00,203.20 L110.00,201.80 L114.50,202.30 L113.50,205.00 L111.00,208.00 L108.00,210.00 L104.00,210.50 L100.80,209.50 L99.80,205.50Z" fill="#ffa81e"/>
<path d="M101.30,203.00 L104.00,204.50 L107.00,203.70 L110.00,202.30 L112.80,202.80 L111.00,205.50 L108.00,208.00 L104.00,209.50 L101.30,208.50 L100.70,205.50Z" fill="#ff3a14"/>
<path d="M88.50,198.30 L91.50,197.60 L91.30,201.30 L89.00,202.00Z" fill="#ffa81e"/>
<path d="M85.50,201.00 L88.00,198.60 L89.70,198.30 L89.50,200.60 L87.50,202.00Z" fill="#ff3a14"/>
<circle cx="110.6" cy="211.6" r="0.9" fill="#ffa81e"/>
<path d="M92.00,221.00 L95.00,220.50 L95.00,227.00 L92.50,227.00Z" fill="#52b41c"/>
<circle cx="93" cy="225" r="0.7" fill="#f4fb2a"/>
<circle cx="168" cy="227.8" r="0.9" fill="#52b41c"/>
<circle cx="172.5" cy="231" r="0.7" fill="#52b41c"/>
<circle cx="175" cy="232.5" r="0.8" fill="#9ccc2c"/>
<circle cx="177" cy="231" r="0.7" fill="#52b41c"/>
<circle cx="161" cy="237.5" r="0.5" fill="#52b41c"/>
<circle cx="174" cy="229.5" r="0.5" fill="#52b41c"/>
<circle cx="120" cy="255" r="0.7" fill="#f4fb2a"/>
<circle cx="118" cy="256" r="0.6" fill="#f4fb2a"/>
<path d="M92.00,262.00 L95.70,262.00 L97.70,268.00 L98.20,274.00 L99.20,279.00 L101.20,284.00 L103.20,291.00 L104.70,296.00 L102.00,296.00 L99.00,290.00 L96.50,284.00 L94.00,278.00 L92.50,272.00 L91.50,266.00Z" fill="#52b41c"/>
<path d="M92.30,263.50 L95.50,264.00 L96.60,270.00 L96.20,273.30 L93.30,272.60Z" fill="#9ccc2c"/>
<path d="M99.00,277.00 L104.00,276.00 L107.00,277.50 L106.50,283.00 L107.00,290.00 L108.00,297.00 L110.00,301.00 L107.50,304.50 L105.00,306.50 L102.50,300.00 L100.00,293.00 L98.00,286.00Z" fill="#52b41c"/>
<path d="M100.50,279.50 L103.50,279.50 L104.00,284.00 L101.50,284.50Z" fill="#087008"/>
<circle cx="111.5" cy="279.5" r="1.6" fill="#52b41c"/>
<circle cx="113.7" cy="283" r="1.0" fill="#52b41c"/>
<circle cx="112" cy="289.5" r="1.3" fill="#52b41c"/>
<circle cx="110.7" cy="299" r="1.0" fill="#52b41c"/>
<circle cx="113" cy="294" r="0.8" fill="#52b41c"/>
<circle cx="109.5" cy="285" r="0.8" fill="#52b41c"/>
<path d="M101.00,290.50 L105.50,290.00 L106.00,295.50 L103.00,296.50 L101.00,294.00Z" fill="#f4fb2a"/>
<circle cx="109" cy="277" r="0.7" fill="#f4fb2a"/>
<circle cx="100" cy="283" r="0.6" fill="#f4fb2a"/>
<circle cx="105.5" cy="300" r="0.6" fill="#f4fb2a"/>
</g>
</g>
<use href="#bnd"/>
<use href="#india" fill="none" stroke="#021" stroke-width="0.12"/>
<use href="#isl"/>
</g>
<text class="t" x="84.3" y="189.6" text-anchor="middle">72°E</text>
<text class="t" x="84.3" y="319.8" text-anchor="middle">72°E</text>
<text class="t" x="106.7" y="189.6" text-anchor="middle">78°E</text>
<text class="t" x="106.7" y="319.8" text-anchor="middle">78°E</text>
<text class="t" x="129.1" y="189.6" text-anchor="middle">84°E</text>
<text class="t" x="129.1" y="319.8" text-anchor="middle">84°E</text>
<text class="t" x="151.5" y="189.6" text-anchor="middle">90°E</text>
<text class="t" x="151.5" y="319.8" text-anchor="middle">90°E</text>
<text class="t" x="173.9" y="189.6" text-anchor="middle">96°E</text>
<text class="t" x="173.9" y="319.8" text-anchor="middle">96°E</text>
<text class="t" transform="translate(68.8,200.5) rotate(-90)" text-anchor="middle">36°N</text>
<text class="t" transform="translate(182.9,200.5) rotate(-90)" text-anchor="middle">36°N</text>
<text class="t" transform="translate(68.8,222.9) rotate(-90)" text-anchor="middle">30°N</text>
<text class="t" transform="translate(182.9,222.9) rotate(-90)" text-anchor="middle">30°N</text>
<text class="t" transform="translate(68.8,245.3) rotate(-90)" text-anchor="middle">24°N</text>
<text class="t" transform="translate(182.9,245.3) rotate(-90)" text-anchor="middle">24°N</text>
<text class="t" transform="translate(68.8,267.7) rotate(-90)" text-anchor="middle">18°N</text>
<text class="t" transform="translate(182.9,267.7) rotate(-90)" text-anchor="middle">18°N</text>
<text class="t" transform="translate(68.8,290.1) rotate(-90)" text-anchor="middle">12°N</text>
<text class="t" transform="translate(182.9,290.1) rotate(-90)" text-anchor="middle">12°N</text>
<text class="t" transform="translate(68.8,312.5) rotate(-90)" text-anchor="middle">6°N</text>
<text class="t" transform="translate(182.9,312.5) rotate(-90)" text-anchor="middle">6°N</text>
<text class="h" x="135.9" y="195.9" text-anchor="middle">IMD-PERSIANN_CDR</text>
<rect x="189.3" y="190.4" width="109.3" height="126.0" fill="#fff" stroke="#9a9a9a" stroke-width="0.5"/>
<g transform="translate(-65.18,335.69) scale(3.733,-3.733)">
<use href="#india" fill="#087008" stroke="#031" stroke-width="0.1"/>
<g clip-path="url(#cl)">
<g transform="scale(0.26788,-0.26788) translate(65.18,-335.69)">
<path d="M204.30,196.00 L237.30,196.00 L237.30,212.00 L229.30,218.50 L219.30,219.00 L211.30,213.00 L205.30,206.00Z" fill="#52b41c"/>
<path d="M209.80,202.00 L215.60,202.50 L216.10,207.50 L211.80,208.00Z" fill="#087008"/>
<path d="M211.30,208.80 L216.80,209.20 L218.60,214.00 L213.30,213.50Z" fill="#087008"/>
<path d="M220.30,214.50 L224.30,214.00 L225.30,218.00 L221.30,218.50Z" fill="#087008"/>
<path d="M215.80,198.50 L219.80,200.00 L222.30,202.50 L226.30,202.30 L229.30,200.80 L235.30,201.30 L234.30,205.00 L231.60,208.00 L231.30,213.00 L225.30,212.80 L220.30,212.00 L217.60,208.50 L216.50,203.50Z" fill="#f4fb2a"/>
<path d="M219.30,201.50 L222.30,203.50 L226.30,203.20 L229.30,201.80 L233.80,202.30 L232.80,205.00 L230.30,208.00 L227.30,210.00 L223.30,210.50 L220.10,209.50 L219.10,205.50Z" fill="#ffa81e"/>
<path d="M220.60,203.00 L223.30,204.50 L226.30,203.70 L229.30,202.30 L232.10,202.80 L230.30,205.50 L227.30,208.00 L223.30,209.50 L220.60,208.50 L220.00,205.50Z" fill="#ff3a14"/>
<path d="M207.80,198.30 L210.80,197.60 L210.60,201.30 L208.30,202.00Z" fill="#ffa81e"/>
<path d="M204.80,201.00 L207.30,198.60 L209.00,198.30 L208.80,200.60 L206.80,202.00Z" fill="#ff3a14"/>
<circle cx="229.89999999999998" cy="211.6" r="0.9" fill="#ffa81e"/>
<path d="M211.30,221.00 L214.30,220.50 L214.30,227.00 L211.80,227.00Z" fill="#52b41c"/>
<circle cx="212.3" cy="225" r="0.7" fill="#f4fb2a"/>
<circle cx="287.3" cy="227.8" r="0.9" fill="#52b41c"/>
<circle cx="291.8" cy="231" r="0.7" fill="#52b41c"/>
<circle cx="294.3" cy="232.5" r="0.8" fill="#9ccc2c"/>
<circle cx="296.3" cy="231" r="0.7" fill="#52b41c"/>
<circle cx="280.3" cy="237.5" r="0.5" fill="#52b41c"/>
<circle cx="293.3" cy="229.5" r="0.5" fill="#52b41c"/>
<circle cx="239.3" cy="255" r="0.7" fill="#f4fb2a"/>
<circle cx="237.3" cy="256" r="0.6" fill="#f4fb2a"/>
<path d="M211.30,262.00 L215.00,262.00 L217.00,268.00 L217.50,274.00 L218.50,279.00 L220.50,284.00 L222.50,291.00 L224.00,296.00 L221.30,296.00 L218.30,290.00 L215.80,284.00 L213.30,278.00 L211.80,272.00 L210.80,266.00Z" fill="#52b41c"/>
<path d="M211.60,263.50 L214.80,264.00 L215.90,270.00 L215.50,273.30 L212.60,272.60Z" fill="#9ccc2c"/>
<path d="M218.30,277.00 L223.30,276.00 L226.30,277.50 L225.80,283.00 L226.30,290.00 L227.30,297.00 L229.30,301.00 L226.80,304.50 L224.30,306.50 L221.80,300.00 L219.30,293.00 L217.30,286.00Z" fill="#52b41c"/>
<path d="M219.80,279.50 L222.80,279.50 L223.30,284.00 L220.80,284.50Z" fill="#087008"/>
<circle cx="230.8" cy="279.5" r="1.6" fill="#52b41c"/>
<circle cx="233.0" cy="283" r="1.0" fill="#52b41c"/>
<circle cx="231.3" cy="289.5" r="1.3" fill="#52b41c"/>
<circle cx="230.0" cy="299" r="1.0" fill="#52b41c"/>
<circle cx="232.3" cy="294" r="0.8" fill="#52b41c"/>
<circle cx="228.8" cy="285" r="0.8" fill="#52b41c"/>
<path d="M220.30,290.50 L224.80,290.00 L225.30,295.50 L222.30,296.50 L220.30,294.00Z" fill="#f4fb2a"/>
<circle cx="228.3" cy="277" r="0.7" fill="#f4fb2a"/>
<circle cx="219.3" cy="283" r="0.6" fill="#f4fb2a"/>
<circle cx="224.8" cy="300" r="0.6" fill="#f4fb2a"/>
</g>
</g>
<use href="#bnd"/>
<use href="#india" fill="none" stroke="#021" stroke-width="0.12"/>
<use href="#isl"/>
</g>
<text class="t" x="203.6" y="189.6" text-anchor="middle">72°E</text>
<text class="t" x="203.6" y="319.8" text-anchor="middle">72°E</text>
<text class="t" x="226.0" y="189.6" text-anchor="middle">78°E</text>
<text class="t" x="226.0" y="319.8" text-anchor="middle">78°E</text>
<text class="t" x="248.4" y="189.6" text-anchor="middle">84°E</text>
<text class="t" x="248.4" y="319.8" text-anchor="middle">84°E</text>
<text class="t" x="270.8" y="189.6" text-anchor="middle">90°E</text>
<text class="t" x="270.8" y="319.8" text-anchor="middle">90°E</text>
<text class="t" x="293.2" y="189.6" text-anchor="middle">96°E</text>
<text class="t" x="293.2" y="319.8" text-anchor="middle">96°E</text>
<text class="t" transform="translate(188.7,200.5) rotate(-90)" text-anchor="middle">36°N</text>
<text class="t" transform="translate(302.2,200.5) rotate(-90)" text-anchor="middle">36°N</text>
<text class="t" transform="translate(188.7,222.9) rotate(-90)" text-anchor="middle">30°N</text>
<text class="t" transform="translate(302.2,222.9) rotate(-90)" text-anchor="middle">30°N</text>
<text class="t" transform="translate(188.7,245.3) rotate(-90)" text-anchor="middle">24°N</text>
<text class="t" transform="translate(302.2,245.3) rotate(-90)" text-anchor="middle">24°N</text>
<text class="t" transform="translate(188.7,267.7) rotate(-90)" text-anchor="middle">18°N</text>
<text class="t" transform="translate(302.2,267.7) rotate(-90)" text-anchor="middle">18°N</text>
<text class="t" transform="translate(188.7,290.1) rotate(-90)" text-anchor="middle">12°N</text>
<text class="t" transform="translate(302.2,290.1) rotate(-90)" text-anchor="middle">12°N</text>
<text class="t" transform="translate(188.7,312.5) rotate(-90)" text-anchor="middle">6°N</text>
<text class="t" transform="translate(302.2,312.5) rotate(-90)" text-anchor="middle">6°N</text>
<text class="h" x="239" y="195.9" text-anchor="middle">IMD-SM2RAIN</text>
<rect x="307.3" y="190.4" width="109.4" height="126.0" fill="#fff" stroke="#9a9a9a" stroke-width="0.5"/>
<g transform="translate(51.96,336.02) scale(3.745,-3.745)">
<use href="#india" fill="#087008" stroke="#031" stroke-width="0.1"/>
<g clip-path="url(#cl)">
<g transform="scale(0.26702,-0.26702) translate(-51.96,-336.02)">
<path d="M322.00,195.00 L356.00,195.00 L356.00,211.00 L348.00,218.00 L338.00,219.00 L330.00,213.00 L324.00,206.00Z" fill="#52b41c"/>
<path d="M328.00,202.00 L332.00,202.00 L332.50,205.50 L329.00,205.50Z" fill="#087008"/>
<path d="M329.00,207.00 L334.00,207.00 L335.00,211.50 L331.00,211.50Z" fill="#087008"/>
<path d="M332.00,214.00 L339.00,214.00 L339.00,220.00 L333.00,220.00Z" fill="#087008"/>
<path d="M326.00,198.00 L332.00,196.80 L335.00,198.50 L338.00,201.00 L342.00,202.50 L347.00,201.50 L353.00,201.30 L352.50,205.00 L350.00,208.50 L349.00,212.00 L345.00,212.50 L340.00,211.00 L337.00,208.00 L336.00,203.00 L333.00,200.70 L329.00,200.50 L327.00,200.80Z" fill="#f4fb2a"/>
<path d="M337.50,202.00 L341.00,203.00 L344.50,202.50 L344.50,206.00 L343.00,209.00 L339.00,209.50 L337.00,206.00Z" fill="#ffa81e"/>
<path d="M339.50,203.50 L343.00,203.30 L343.00,205.50 L340.00,206.00Z" fill="#ff3a14"/>
<circle cx="338.6" cy="207.2" r="0.7" fill="#ff3a14"/>
<circle cx="341.8" cy="207.8" r="0.6" fill="#ff3a14"/>
<circle cx="347.5" cy="204" r="1.0" fill="#ffa81e"/>
<path d="M347.00,211.00 L349.70,210.80 L349.80,213.60 L347.30,213.60Z" fill="#ff3a14"/>
<path d="M325.50,198.20 L328.00,197.70 L328.00,200.30 L326.00,201.00Z" fill="#ffa81e"/>
<path d="M323.00,200.20 L325.30,198.20 L327.00,198.00 L326.80,200.30 L325.00,201.50Z" fill="#ff3a14"/>
<path d="M329.00,217.00 L336.00,216.00 L341.00,219.00 L345.00,223.00 L344.00,228.00 L338.00,229.00 L332.00,227.00 L329.00,223.00Z" fill="#52b41c"/>
<path d="M334.00,220.00 L338.00,220.50 L338.00,224.50 L334.00,224.00Z" fill="#087008"/>
<circle cx="331" cy="223" r="0.8" fill="#f4fb2a"/>
<circle cx="330" cy="222" r="0.5" fill="#f4fb2a"/>
<path d="M313.00,232.00 L318.00,230.00 L324.00,231.50 L325.00,237.00 L321.00,241.00 L314.00,240.50Z" fill="#52b41c"/>
<circle cx="319" cy="236" r="1.6" fill="#087008"/>
<path d="M309.00,245.00 L315.00,243.50 L321.00,244.50 L321.00,250.00 L317.00,253.50 L311.00,252.00Z" fill="#52b41c"/>
<circle cx="314.5" cy="248.5" r="1.5" fill="#087008"/>
<circle cx="318.5" cy="247" r="1.0" fill="#087008"/>
<path d="M324.00,244.00 L331.00,243.50 L331.00,248.00 L325.00,248.50Z" fill="#52b41c"/>
<circle cx="336" cy="247" r="0.7" fill="#f4fb2a"/>
<circle cx="355" cy="256" r="0.7" fill="#f4fb2a"/>
<circle cx="371" cy="238" r="0.8" fill="#52b41c"/>
<circle cx="405.5" cy="227.7" r="1.2" fill="#52b41c"/>
<path d="M410.50,225.50 L417.00,227.50 L416.50,233.00 L411.50,232.00Z" fill="#52b41c"/>
<circle cx="392.5" cy="239" r="0.6" fill="#52b41c"/>
<circle cx="399" cy="237.5" r="0.6" fill="#52b41c"/>
<circle cx="406.5" cy="238.5" r="0.8" fill="#52b41c"/>
<circle cx="404" cy="244" r="0.9" fill="#52b41c"/>
<path d="M329.50,263.50 L333.00,263.00 L337.00,265.00 L340.00,271.00 L342.00,275.00 L347.00,274.00 L353.00,274.00 L354.50,279.00 L354.00,288.00 L352.00,296.00 L348.00,302.00 L345.00,306.00 L341.00,305.00 L338.00,299.00 L335.00,291.00 L332.00,281.00 L330.00,271.00Z" fill="#52b41c"/>
<path d="M338.00,277.00 L345.00,276.50 L345.00,283.00 L339.00,283.50Z" fill="#087008"/>
<path d="M341.00,290.00 L348.00,289.50 L347.50,296.00 L342.00,296.50Z" fill="#087008"/>
<path d="M334.00,268.00 L337.00,268.00 L338.00,273.00 L335.00,273.00Z" fill="#087008"/>
<circle cx="334" cy="266" r="0.8" fill="#f4fb2a"/>
<circle cx="336" cy="286" r="0.9" fill="#f4fb2a"/>
<circle cx="339" cy="289" r="0.8" fill="#f4fb2a"/>
<circle cx="340" cy="293" r="0.8" fill="#f4fb2a"/>
<circle cx="341" cy="298" r="0.8" fill="#f4fb2a"/>
<circle cx="332" cy="271" r="0.7" fill="#f4fb2a"/>
<circle cx="346" cy="276" r="0.8" fill="#f4fb2a"/>
<circle cx="348" cy="280" r="0.8" fill="#f4fb2a"/>
<circle cx="351" cy="286" r="0.8" fill="#f4fb2a"/>
<circle cx="348" cy="283" r="0.6" fill="#f4fb2a"/>
<circle cx="343" cy="302" r="0.7" fill="#f4fb2a"/>
</g>
</g>
<use href="#bnd"/>
<use href="#india" fill="none" stroke="#021" stroke-width="0.12"/>
<use href="#isl"/>
</g>
<text class="t" x="321.6" y="189.6" text-anchor="middle">72°E</text>
<text class="t" x="321.6" y="319.8" text-anchor="middle">72°E</text>
<text class="t" x="344.1" y="189.6" text-anchor="middle">78°E</text>
<text class="t" x="344.1" y="319.8" text-anchor="middle">78°E</text>
<text class="t" x="366.5" y="189.6" text-anchor="middle">84°E</text>
<text class="t" x="366.5" y="319.8" text-anchor="middle">84°E</text>
<text class="t" x="389.0" y="189.6" text-anchor="middle">90°E</text>
<text class="t" x="389.0" y="319.8" text-anchor="middle">90°E</text>
<text class="t" x="411.5" y="189.6" text-anchor="middle">96°E</text>
<text class="t" x="411.5" y="319.8" text-anchor="middle">96°E</text>
<text class="t" transform="translate(306.7,200.5) rotate(-90)" text-anchor="middle">36°N</text>
<text class="t" transform="translate(420.3,200.5) rotate(-90)" text-anchor="middle">36°N</text>
<text class="t" transform="translate(306.7,223.0) rotate(-90)" text-anchor="middle">30°N</text>
<text class="t" transform="translate(420.3,223.0) rotate(-90)" text-anchor="middle">30°N</text>
<text class="t" transform="translate(306.7,245.4) rotate(-90)" text-anchor="middle">24°N</text>
<text class="t" transform="translate(420.3,245.4) rotate(-90)" text-anchor="middle">24°N</text>
<text class="t" transform="translate(306.7,267.9) rotate(-90)" text-anchor="middle">18°N</text>
<text class="t" transform="translate(420.3,267.9) rotate(-90)" text-anchor="middle">18°N</text>
<text class="t" transform="translate(306.7,290.4) rotate(-90)" text-anchor="middle">12°N</text>
<text class="t" transform="translate(420.3,290.4) rotate(-90)" text-anchor="middle">12°N</text>
<text class="t" transform="translate(306.7,312.9) rotate(-90)" text-anchor="middle">6°N</text>
<text class="t" transform="translate(420.3,312.9) rotate(-90)" text-anchor="middle">6°N</text>
<text class="h" x="372.4" y="195.9" text-anchor="middle">IMD-TERRACLIMATE</text>
<rect x="424" y="209.5" width="21.5" height="10.5" fill="#fff" stroke="#888" stroke-width="0.5"/><text class="s" x="452" y="216.6" style="font-size:6px;stroke:#222;stroke-width:0.15px" fill="#222" textLength="89" lengthAdjust="spacingAndGlyphs">Indian Meteorological Sub Divisions</text><text class="s" x="424" y="231.3" style="font-size:6px;stroke:#222;stroke-width:0.15px" fill="#222" textLength="86.5" lengthAdjust="spacingAndGlyphs">Pearson Correlation Coefficient (γ)</text><rect x="431" y="240.7" width="21" height="9.3" fill="#ff3a14"/><text class="s" x="465.0" y="247.6" style="font-size:8.2px;stroke:#111;stroke-width:0.15px" fill="#111" textLength="20.7" lengthAdjust="spacingAndGlyphs">0 – 0.2</text><rect x="431" y="252.5" width="21" height="9.3" fill="#ffa81e"/><text class="s" x="458.3" y="259.4" style="font-size:8.2px;stroke:#111;stroke-width:0.15px" fill="#111" textLength="30.3" lengthAdjust="spacingAndGlyphs">0.21 – 0.4</text><rect x="431" y="264.3" width="21" height="9.3" fill="#f4fb2a"/><text class="s" x="458.3" y="271.2" style="font-size:8.2px;stroke:#111;stroke-width:0.15px" fill="#111" textLength="30.3" lengthAdjust="spacingAndGlyphs">0.41 – 0.6</text><rect x="431" y="276.1" width="21" height="9.3" fill="#52b41c"/><text class="s" x="456.2" y="283.0" style="font-size:8.2px;stroke:#111;stroke-width:0.15px" fill="#111" textLength="31.2" lengthAdjust="spacingAndGlyphs">0.61 – 0.8</text><rect x="431" y="288.2" width="21" height="9.3" fill="#087008"/><text class="s" x="456.2" y="295.1" style="font-size:8.2px;stroke:#111;stroke-width:0.15px" fill="#111" textLength="24.6" lengthAdjust="spacingAndGlyphs">0.81 – 1</text>
</svg></body></html>
